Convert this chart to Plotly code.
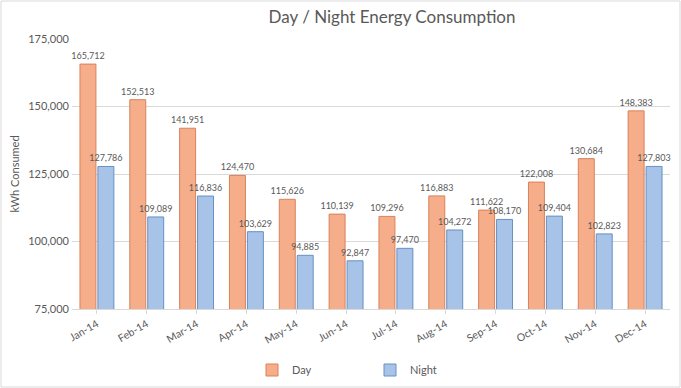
import plotly.graph_objects as go

months = ["Jan-14", "Feb-14", "Mar-14", "Apr-14", "May-14", "Jun-14",
          "Jul-14", "Aug-14", "Sep-14", "Oct-14", "Nov-14", "Dec-14"]
day = [165712, 152513, 141951, 124470, 115626, 110139,
       109296, 116883, 111622, 122008, 130684, 148383]
night = [127786, 109089, 116836, 103629, 94885, 92847,
         97470, 104272, 108170, 109404, 102823, 127803]
y_ticks = [75000, 100000, 125000, 150000, 175000]

font_family = "Lato, 'Open Sans', sans-serif"
grey = "#595959"

fig = go.Figure()
fig.add_trace(go.Bar(
    name="Day", x=months, y=day,
    marker=dict(color="#F5AD8A", line=dict(color="#D9825A", width=1)),
    text=[f"{v:,}" for v in day], textposition="outside",
    constraintext="none",
    textfont=dict(size=9, color=grey, family=font_family),
    cliponaxis=False,
))
fig.add_trace(go.Bar(
    name="Night", x=months, y=night,
    marker=dict(color="#A7C3E7", line=dict(color="#6690C4", width=1)),
    text=[f"{v:,}" for v in night], textposition="outside",
    constraintext="none",
    textfont=dict(size=9, color=grey, family=font_family),
    cliponaxis=False,
))

L, R, T, B = 72, 11, 39, 79
W, H = 681, 388
pw, ph = W - L - R, H - T - B

fig.update_layout(
    width=W, height=H,
    margin=dict(l=L, r=R, t=T, b=B, autoexpand=False),
    paper_bgcolor="white", plot_bgcolor="white",
    font=dict(family=font_family, color=grey, size=10),
    title=dict(text="Day / Night Energy Consumption", x=392 / W, xanchor="center",
               y=1 - 17 / H, yanchor="middle",
               font=dict(size=17, color=grey, family=font_family)),
    barmode="group", bargap=0.28, bargroupgap=0.11,
    showlegend=True,
    legend=dict(orientation="h", x=(252 - L) / pw, xanchor="left",
                y=-(370 - (T + ph)) / ph, yanchor="middle",
                font=dict(size=11, color=grey, family=font_family),
                traceorder="normal",
                entrywidth=73, entrywidthmode="pixels"),
    xaxis=dict(tickangle=-30, showgrid=False, showline=True, automargin=False,
               linecolor="#D9D9D9", ticks="outside", tickcolor="#D9D9D9",
               ticklen=4, tickfont=dict(size=10.5, color=grey),
               range=[-0.5, 11.5]),
    yaxis=dict(range=[75000, 175000], tickvals=y_ticks, automargin=False,
               tickformat=",", showgrid=True, gridcolor="#D9D9D9",
               zeroline=False, ticks="", ticklabelstandoff=2,
               tickfont=dict(size=11, color=grey),
               title=dict(text="kWh Consumed", font=dict(size=11, color=grey),
                          standoff=6)),
    shapes=[dict(type="rect", xref="paper", yref="paper",
                 x0=-(L - 1) / pw, x1=1 + (R - 1) / pw,
                 y0=-(B - 1) / ph, y1=1 + (T - 1) / ph,
                 line=dict(color="#D9D9D9", width=1))],
)

fig.write_html("out.html", config={"displayModeBar": False},
               post_script="document.body.style.margin='0';document.body.style.overflow='hidden';")
